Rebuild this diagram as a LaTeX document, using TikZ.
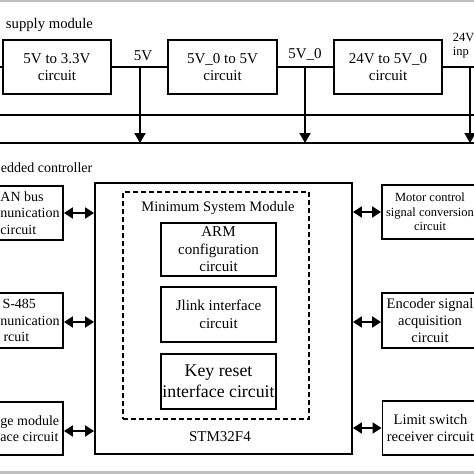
\documentclass[tikz,border=0pt]{standalone}
\usepackage{fontspec}
\setmainfont{Liberation Serif}
\usetikzlibrary{arrows.meta}

\begin{document}
\begin{tikzpicture}[
  x=1pt, y=-1pt,
  line width=1.9pt,
  >={Triangle[length=10pt, width=11pt]},
  box/.style  ={draw, align=center, inner sep=0pt, minimum height=54, font=\fontsize{15}{17.5}\selectfont},
  lbox/.style ={draw, align=flush left, text width=61, inner xsep=1.5, inner ysep=0pt, minimum height=54, font=\fontsize{14}{16.5}\selectfont},
  rbox/.style ={box, minimum width=96, font=\fontsize{14.5}{17}\selectfont},
  ibox/.style ={box, minimum width=115},
  lbl/.style  ={inner sep=0pt, font=\fontsize{15}{17}\selectfont},
  arr/.style  ={->},
  dbl/.style  ={{Triangle[length=9pt, width=11pt]}-{Triangle[length=9pt, width=11pt]}},
]
\useasboundingbox (0,0) rectangle (474,474);
\clip (0,0) rectangle (474,474);
\fill[black!25] (0,0) rectangle (474,2);
\fill[black!25] (0,471) rectangle (474,474);

% ---- power supply module ----
\node[lbl, anchor=base west, font=\fontsize{14.7}{17}\selectfont] (pwr) at (5,28) {supply module};

\node[box, minimum width=108] (b1) at (57,67)    {5V to 3.3V\\circuit};
\node[box, minimum width=109] (b2) at (222.5,67) {5V\_0 to 5V\\circuit};
\node[box, minimum width=108] (b3) at (388,67)   {24V to 5V\_0\\circuit};

\coordinate (vout) at (-10,67);
\coordinate (vin)  at (490,67);
\draw (vout) -- (b1);
\draw (b1) -- (b2);
\draw (b2) -- (b3);
\draw (b3) -- (vin);

\node[lbl] (l5)  at (143,56) {5V};
\node[lbl] (l50) at (305,54) {5V\_0};
\node[lbl, align=left, anchor=north west, font=\fontsize{12.5}{14}\selectfont] (l24) at (452,32) {24V\\inp};

% ---- the two rails ----
\coordinate (railAw) at (-5,115);  \coordinate (railAe) at (480,115);
\coordinate (railBw) at (-5,143);  \coordinate (railBe) at (480,143);
\draw (railAw) -- (railAe);
\draw (railBw) -- (railBe);

\coordinate (t5)  at (140,67);
\coordinate (t50) at (305,67);
\coordinate (t24) at (470,67);
\draw[arr] (t5)  -- (t5 |- railBw);
\draw[arr] (t50) -- (t50 |- railBw);
\draw[arr] (t24) -- (t24 |- railBw);

% ---- embedded controller ----
\node[lbl, anchor=base west, font=\fontsize{14}{17}\selectfont] (emb) at (0,172) {edded controller};

\node[box, minimum width=257, minimum height=271] (stm) at (223.5,318.5) {};
\node[lbl] (stml) at (220,437) {STM32F4};
\node[draw, dash pattern=on 5pt off 3pt, minimum width=186, minimum height=227] (msm) at (216,305.5) {};
\node[lbl, font=\fontsize{14.5}{17}\selectfont] (msml) at (218,208) {Minimum System Module};

\node[ibox, minimum height=53] (arm)   at (218.5,249.5) {ARM\\configuration\\circuit};
\node[ibox, minimum height=55] (jlink) at (218.5,314.5) {Jlink interface\\circuit};
\node[ibox, minimum height=55, font=\fontsize{17.8}{21}\selectfont] (key) at (218.5,381.5) {Key reset\\interface circuit};

% left column
\node[lbox] (can) at (31,213)                      {AN bus\\nunication\\circuit};
\node[lbox, minimum height=55] (rs)  at (31,320.5) {\hspace*{2pt}S-485\\nunication\\\hspace*{3pt}rcuit};
\node[lbox, minimum height=53] (sto) at (31,428.5) {ge module\\ace circuit};

% right column
\node[rbox, font=\fontsize{12.5}{14.5}\selectfont] (mot) at (430,212) {Motor control\\signal conversion\\circuit};
\node[rbox, minimum height=55] (enc) at (430,320.5) {Encoder signal\\acquisition\\circuit};
\node[rbox] (lim) at (430.5,428)                    {Limit switch\\receiver circuit};

\coordinate (rsp)  at ([yshift=-1.5pt]rs.east);
\coordinate (stop) at ([yshift=-2.5pt]sto.east);
\coordinate (encp) at ([yshift=-1.5pt]enc.west);
\draw[dbl] (can.east) -- (can.east -| stm.west);
\draw[dbl] (rsp) -- (rsp -| stm.west);
\draw[dbl] (stop) -- (stop -| stm.west);
\draw[dbl] (stm.east |- mot) -- (mot.west);
\draw[dbl] (stm.east |- encp) -- (encp);
\draw[dbl] (stm.east |- lim) -- (lim.west);

\end{tikzpicture}
\end{document}
